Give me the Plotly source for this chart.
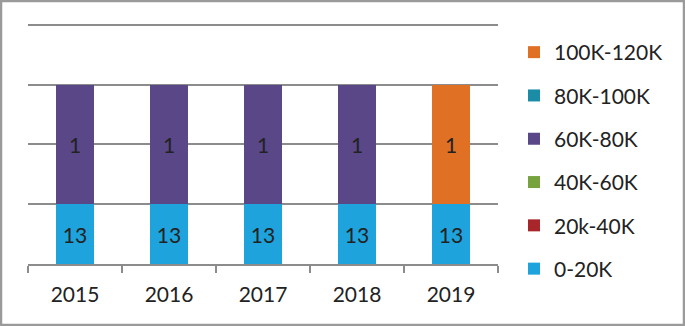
import plotly.graph_objects as go

years = ["2015", "2016", "2017", "2018", "2019"]
series_names = ["0-20K", "20k-40K", "40K-60K", "60K-80K", "80K-100K", "100K-120K"]
series_colors = ["#1ea3dc", "#a8262a", "#77a33f", "#5a4787", "#1a8ca6", "#e07024"]
# segment heights as drawn (grid units)
h_0_20k = [1, 1, 1, 1, 1]
h_20_40k = [0, 0, 0, 0, 0]
h_40_60k = [0, 0, 0, 0, 0]
h_60_80k = [2, 2, 2, 2, 0]
h_80_100k = [0, 0, 0, 0, 0]
h_100_120k = [0, 0, 0, 0, 2]
# data labels shown on the segments
lbl_0_20k = ["13", "13", "13", "13", "13"]
lbl_60_80k = ["1", "1", "1", "1", ""]
lbl_100_120k = ["", "", "", "", "1"]
empty = ["", "", "", "", ""]

heights = [h_0_20k, h_20_40k, h_40_60k, h_60_80k, h_80_100k, h_100_120k]
labels = [lbl_0_20k, empty, empty, lbl_60_80k, empty, lbl_100_120k]

FONT = "Lato, 'Open Sans', sans-serif"
fig = go.Figure()
n = len(series_names)
for i, name in enumerate(series_names):
    fig.add_trace(go.Bar(
        x=years, y=heights[i], name=name, text=labels[i],
        marker=dict(color=series_colors[i], line=dict(width=0)),
        textposition="inside", insidetextanchor="middle",
        textfont=dict(color="#222222", size=21, family=FONT),
        constraintext="none", legendgroup=name, legendrank=n - i,
        hoverinfo="skip",
    ))

W, H = 685, 326
YMAX = 4.1
l, r, t, b = 28, 187, 19, 62
pw = W - l - r
ph = H - t - b

fig.update_layout(
    width=W, height=H, barmode="stack", bargap=0.59,
    margin=dict(l=l, r=r, t=t, b=b, autoexpand=False),
    paper_bgcolor="white", plot_bgcolor="white",
    font=dict(family=FONT, color="#222222", size=21),
    showlegend=True,
    legend=dict(traceorder="grouped", tracegroupgap=13, maxheight=1,
                xref="container", yref="container",
                x=514 / W, y=1 - 32 / H, xanchor="left", yanchor="top",
                font=dict(size=21, family=FONT, color="#222222"),
                itemwidth=30, bgcolor="rgba(0,0,0,0)"),
    xaxis=dict(showline=True, linecolor="#8c8c8c", linewidth=1.5,
               ticks="outside", tickson="boundaries", ticklen=7,
               tickcolor="#8c8c8c", tickwidth=1.5, ticklabelstandoff=11,
               tickfont=dict(size=21, family=FONT, color="#222222"),
               showgrid=False, fixedrange=True, automargin=False),
    yaxis=dict(range=[0, YMAX], dtick=1, showticklabels=False,
               showgrid=True, gridcolor="#8c8c8c", gridwidth=1.5,
               zeroline=False, showline=False, fixedrange=True,
               automargin=False),
    shapes=[dict(type="rect", xref="paper", yref="paper",
                 x0=(-l + 1) / pw, x1=(W - l - 1) / pw,
                 y0=(-b + 1) / ph, y1=(H - b - 1) / ph,
                 line=dict(color="#9a9a9a", width=2.5), layer="above")],
)

fig.write_html("out.html", config={"displayModeBar": False},
               post_script="document.body.style.margin='0';document.body.style.padding='0';")
